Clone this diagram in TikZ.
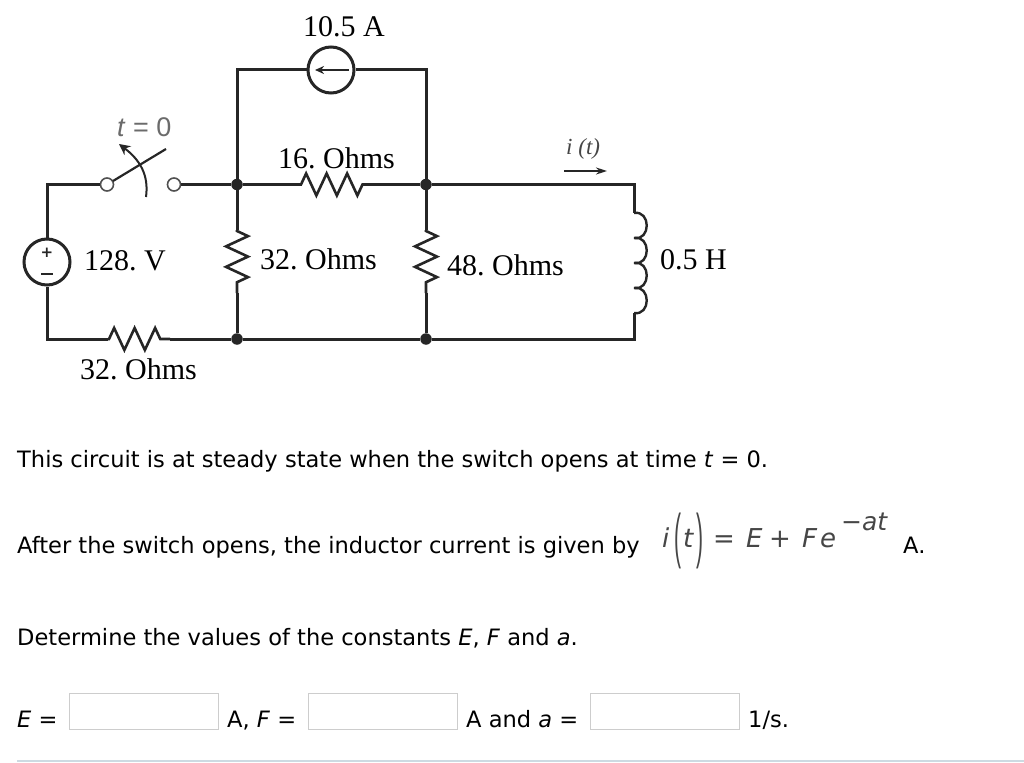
\documentclass[tikz,border=0pt]{standalone}
\usepackage{fontspec}
\setmainfont{Liberation Serif}
\newfontfamily\bodyfont{DejaVu Sans}
\newfontfamily\thinfont{Liberation Sans}
\usetikzlibrary{arrows.meta, decorations.pathmorphing}
\definecolor{wirecol}{RGB}{38,38,38}
\definecolor{eqcol}{RGB}{70,70,70}
\definecolor{boxcol}{RGB}{205,205,205}
\definecolor{barcol}{RGB}{205,218,226}
\tikzset{
wire/.style={draw=wirecol, line width=3pt},
joint/.style={fill=wirecol, circle, inner sep=0pt, minimum size=11.5pt},
terminal/.style={draw=wirecol!80, fill=white, circle, line width=1.6pt, inner sep=0pt, minimum size=13pt},
source/.style={draw=wirecol, fill=white, circle, line width=3pt, inner sep=0pt, minimum size=46pt},
resistor/.style={wire, line width=2.6pt, decoration={zigzag, segment length=20.5pt, amplitude=11pt, pre length=1pt, post length=1pt}, decorate},
value/.style={anchor=base west, inner sep=0pt, font=\fontsize{30}{30}\selectfont, text=black},
body/.style={anchor=base west, inner sep=0pt, font=\bodyfont\fontsize{22.55}{24}\selectfont, text=black},
eqn/.style={anchor=base west, inner sep=0pt, font=\bodyfont\itshape\fontsize{26}{26}\selectfont, text=eqcol},
brace/.style={anchor=base west, inner sep=0pt, font=\thinfont\fontsize{30}{30}\selectfont, text=eqcol},
answer/.style={draw=boxcol, line width=1pt, anchor=north west, inner sep=0pt, minimum width=149pt, minimum height=36pt},
}

\begin{document}
\frenchspacing
\begin{tikzpicture}[x=1pt, y=-1pt]
    \useasboundingbox (0,0) rectangle (1024,762);

    %corners of the circuit
    \coordinate (tl) at (47,184.5);
    \coordinate (bl) at (47,339);
    \coordinate (tr) at (634,184.5);
    \coordinate (br) at (634,339);
    \coordinate (cl) at (237,70);
    \coordinate (cr) at (426,70);

    %ends of the parts
    \coordinate (r1a) at (108,339);
    \coordinate (r1b) at (170,339);
    \coordinate (r2a) at (237,230);
    \coordinate (r2b) at (237,293);
    \coordinate (r3a) at (300,184.5);
    \coordinate (r3b) at (365,184.5);
    \coordinate (r4a) at (426,230);
    \coordinate (r4b) at (426,293);
    \coordinate (la) at (634,213);
    \coordinate (lb) at (634,313);

    %joints
    \node[joint] (j1) at (237,184.5) {};
    \node[joint] (j2) at (426,184.5) {};
    \node[joint] (j3) at (237,339) {};
    \node[joint] (j4) at (426,339) {};

    %sources and switch terminals
    \node[source] (vs) at (47,262) {};
    \node[source] (is) at (331,70) {};
    \node[terminal] (s1) at (107,184.5) {};
    \node[terminal] (s2) at (174,184.5) {};

    %wires
    \draw[wire] (vs.north) -- (tl) -- (s1.west);
    \draw[wire] (s2.east) -- (j1);
    \draw[wire] (j1) -- (r3a);
    \draw[wire] (r3b) -- (j2);
    \draw[wire] (j2) -- (tr) -- (la);
    \draw[wire] (lb) -- (br) -- (j4);
    \draw[wire] (j4) -- (j3);
    \draw[wire] (j3) -- (r1b);
    \draw[wire] (r1a) -- (bl) -- (vs.south);
    \draw[wire] (j1) -- (cl) -- (is.west);
    \draw[wire] (is.east) -- (cr) -- (j2);
    \draw[wire] (j1) -- (r2a);
    \draw[wire] (r2b) -- (j3);
    \draw[wire] (j2) -- (r4a);
    \draw[wire] (r4b) -- (j4);

    %resistors
    \draw[resistor] (r1a) -- (r1b);
    \draw[resistor] (r2a) -- (r2b);
    \draw[resistor] (r3a) -- (r3b);
    \draw[resistor] (r4a) -- (r4b);

    %inductor
    \foreach \y in {213,238,263,288}
        \draw[wire, line width=2.4pt] (634,\y) .. controls (651,\y-3) and (651,\y+28) .. (634,\y+25);

    %switch
    \coordinate (bladeend) at (166,149);
    \coordinate (swinga) at (146,197);
    \coordinate (swingb) at (119,144);
    \draw[wire, line width=2.2pt] (s1) ++(6,-3.5) -- (bladeend);
    \draw[draw=wirecol, line width=2pt, -{Stealth[length=11pt, width=11pt]}] (swinga) .. controls (149,175) and (140,160) .. (swingb);

    %arrow in the current source
    \coordinate (isa) at (349,70);
    \coordinate (isb) at (315,70);
    \draw[draw=wirecol, line width=2pt, -{Stealth[length=9pt, width=8pt]}] (isa) -- (isb);

    %arrow for the inductor current
    \coordinate (ia) at (564,171);
    \coordinate (ib) at (607,171);
    \draw[draw=wirecol, line width=2pt, -{Stealth[length=11pt, width=7pt]}] (ia) -- (ib);

    %signs of the source
    \node[inner sep=0pt, font=\bodyfont\bfseries\fontsize{15}{15}\selectfont, text=wirecol] (plus) at (47,253) {+};
    \draw[draw=wirecol, line width=2pt] (41,274) -- (53,274);

    %labels of the circuit
    \node[value] (l1) at (303,37) {10.5 A};
    \node[value] (l2) at (278,168) {16. Ohms};
    \node[value] (l3) at (84,270) {128. V};
    \node[value] (l4) at (260,269) {32. Ohms};
    \node[value] (l5) at (447,275) {48. Ohms};
    \node[value] (l6) at (660,269) {0.5 H};
    \node[value] (l7) at (80,379) {32. Ohms};
    \node[anchor=base west, inner sep=0pt, font=\thinfont\fontsize{27}{27}\selectfont, text=eqcol!80] (tz) at (117,137) {\textit{t} = 0};
    \node[anchor=base west, inner sep=0pt, font=\itshape\fontsize{23}{23}\selectfont, text=eqcol] (il) at (566,155) {i (t)};

    %question text
    \node[body] (q1) at (17,467) {This circuit is at steady state when the switch opens at time \textit{t} = 0.};
    \node[body] (q2) at (17,553) {After the switch opens, the inductor current is given by};
    \node[body] (q3) at (17,645) {Determine the values of the constants \textit{E}, \textit{F} and \textit{a}.};

    %equation
    \node[eqn] (e1) at (662,547) {i};
    \node[brace] (e2) at (674,556) {\scalebox{0.7}[2]{(}};
    \node[eqn] (e3) at (683,547) {t};
    \node[brace] (e4) at (696,556) {\scalebox{0.7}[2]{)}};
    \node[eqn, font=\bodyfont\fontsize{26}{26}\selectfont] (e5) at (713,547) {=};
    \node[eqn] (e6) at (746,547) {E};
    \node[eqn, font=\bodyfont\fontsize{26}{26}\selectfont] (e7) at (769,547) {+};
    \node[eqn] (e8) at (802,547) {F};
    \node[eqn] (e9) at (820,547) {e};
    \node[eqn, font=\bodyfont\itshape\fontsize{25}{25}\selectfont] (e10) at (841,530) {\textup{\char"2212}at};
    \node[body] (q4) at (903,553) {A.};

    %answers
    \node[body] (a1) at (17,727) {\textit{E} =};
    \node[answer] (b1) at (69,693) {};
    \node[body] (a2) at (227,727) {A, \textit{F} =};
    \node[answer] (b2) at (308,693) {};
    \node[body] (a3) at (466,727) {A and \textit{a} =};
    \node[answer] (b3) at (590,693) {};
    \node[body] (a4) at (748,727) {1/s.};

    %bar at the bottom
    \fill[barcol] (17,760) rectangle (1024,762);

\end{tikzpicture}
\end{document}
